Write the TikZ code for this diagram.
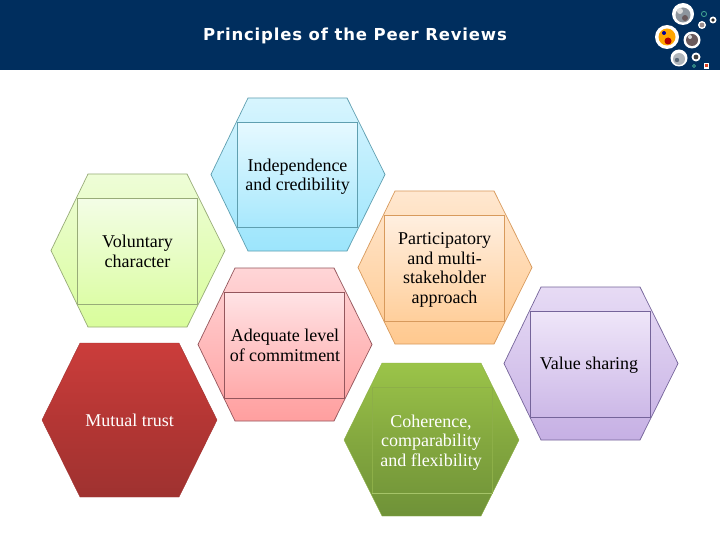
\documentclass[tikz,border=0pt]{standalone}
\usepackage{fontspec}
\setmainfont{Liberation Serif}
\newfontfamily\titlefont[LetterSpace=5]{DejaVu Sans}
\definecolor{navy}{HTML}{002E5E}
\definecolor{bluetop}{HTML}{E6F9FF}\definecolor{bluebot}{HTML}{9CE5FC}\definecolor{blueline}{HTML}{5F9FB0}
\definecolor{greentop}{HTML}{F3FDE6}\definecolor{greenbot}{HTML}{D9FD9C}\definecolor{greenline}{HTML}{98AC78}
\definecolor{orangetop}{HTML}{FFEFE0}\definecolor{orangebot}{HTML}{FFC98F}\definecolor{orangeline}{HTML}{D89A5C}
\definecolor{pinktop}{HTML}{FFE3E5}\definecolor{pinkbot}{HTML}{FF9F9F}\definecolor{pinkline}{HTML}{94565C}
\definecolor{purpletop}{HTML}{EFE6F9}\definecolor{purplebot}{HTML}{C6B0E4}\definecolor{purpleline}{HTML}{75649A}
\definecolor{redtop}{HTML}{CB3D3B}\definecolor{redmid}{HTML}{B43634}\definecolor{redbot}{HTML}{9F3230}\definecolor{redline}{HTML}{A33230}
\definecolor{oltop}{HTML}{9BC449}\definecolor{olmid}{HTML}{84A83F}\definecolor{olbot}{HTML}{6F9238}\definecolor{olline}{HTML}{8DB045}\definecolor{olinner}{HTML}{A5C468}\definecolor{olfaint}{HTML}{8DAF48}
\definecolor{logogrey}{HTML}{8D959E}\definecolor{logobrown}{HTML}{6A5A5C}\definecolor{logoteal}{HTML}{3E9C8E}
\tikzset{
  x=1pt,y=-1pt,
  label text/.style={font=\fontsize{18}{19.4}\selectfont,align=center,inner sep=0pt,text=black},
  light text/.style={label text,text=white},
  logo disc/.style={fill=white,draw=none},
  logo ring/.style={draw=logoteal,line width=0.9pt,fill=none},
  inner box/.style={minimum width=120pt,minimum height=105.5pt,anchor=north west,inner sep=0pt},
}
% #1 name, #2 left, #3 top, #4 top colour, #5 bottom colour, #6 line
\newcommand{\hexacell}[6]{%
  \path[draw=#6,line width=0.7pt,top color=#4!80!#5,bottom color=#5]
    (#2,#3+76.5) -- (#2+37,#3) -- (#2+136,#3) -- (#2+174,#3+76.5) -- (#2+136,#3+153) -- (#2+37,#3+153) -- cycle;
  \node[inner box,draw=#6,line width=0.7pt,top color=#4,bottom color=#5!85!#4] (#1) at (#2+26,#3+24) {};
}
\begin{document}
\begin{tikzpicture}
\useasboundingbox (0,0) rectangle (720,540);
\fill[white] (0,0) rectangle (720,540);
\fill[navy] (0,0) rectangle (720,70);
\node[font=\titlefont\bfseries\fontsize{16.5}{19}\selectfont,text=white,inner sep=0pt] (title) at (355,35.5) {Principles of the Peer Reviews};

% logo
\fill[logo disc] (683,14) circle (11);
\fill[logogrey] (683,15) circle (7.5);
\fill[gray!30] (680,11) circle (3);
\fill[logobrown] (685,18) circle (3);
\fill[logo disc] (667,37) circle (12);
\fill[orange!70!yellow] (667,37) circle (8.5);
\fill[red!70!black] (668,41) circle (3.5);
\fill[blue!60!black] (664,33) circle (2);
\fill[logo disc] (692,40) circle (8.5);
\fill[logobrown] (692,40) circle (6);
\fill[gray!30] (690,37) circle (2);
\fill[logo disc] (679,58) circle (8.5);
\fill[logogrey!70!white] (679,59) circle (6);
\fill[gray!70!navy] (677,60) circle (2.2);
\fill[logo disc] (702,25) circle (4);
\fill[logobrown!70!white] (702,25) circle (2.4);
\fill[logo disc] (713,20) circle (3.5);
\fill[black!70!gray] (713,20) circle (1.9);
\fill[logo disc] (696,57) circle (4.5);
\fill[black!75] (696,57) circle (2.4);
\fill[logo disc] (703.5,63) rectangle (709,69);
\fill[red!50!brown] (704.5,64.5) rectangle (708,67.5);
\draw[logo ring] (704,14) circle (2.6);
\draw[logo ring] (694,66) circle (1.4);

\hexacell{indep}{211}{98}{bluetop}{bluebot}{blueline}
\hexacell{volun}{51}{174}{greentop}{greenbot}{greenline}
\hexacell{parti}{358}{191}{orangetop}{orangebot}{orangeline}
\hexacell{adequ}{198}{268}{pinktop}{pinkbot}{pinkline}
\hexacell{value}{504}{287}{purpletop}{purplebot}{purpleline}

% Mutual trust: no visible inner line
\path[draw=redline,line width=0.4pt,top color=redtop,bottom color=redbot,middle color=redmid]
  (42,420) -- (80,343) -- (179,343) -- (217,420) -- (179,497) -- (80,497) -- cycle;
\node[inner box] (mutua) at (69,367) {};

% Coherence
\path[draw=olline,line width=0.4pt,top color=oltop,bottom color=olbot,middle color=olmid]
  (344,440) -- (382,363) -- (481,363) -- (519,440) -- (481,516) -- (382,516) -- cycle;
\node[inner box,draw=olfaint,line width=0.4pt] (coher) at (371.5,387) {};
\draw[olinner,line width=0.7pt] (coher.south west) -- (coher.south east);

\node[label text] (tindep) at (297.5,176.5) {Independence\\and credibility};
\node[label text] (tvolun) at (137.5,251.5) {Voluntary\\character};
\node[label text] (tparti) at (444.5,270) {Participatory\\and multi-\\stakeholder\\approach};
\node[label text] (tadequ) at (285,345.5) {Adequate level\\of commitment};
\node[label text] (tvalue) at (589,365.5) {Value sharing};
\node[light text] (tmutua) at (129.5,420.5) {Mutual trust};
\node[light text] (tcoher) at (431,442.5) {Coherence,\\comparability\\and flexibility};
\end{tikzpicture}
\end{document}
